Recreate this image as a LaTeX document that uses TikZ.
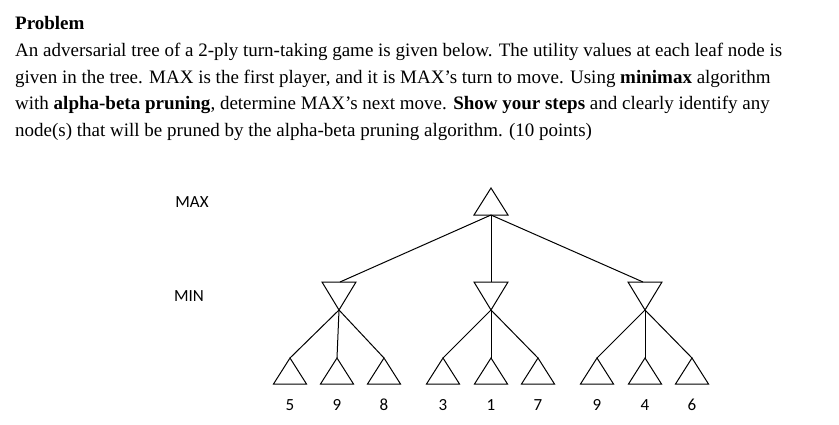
\documentclass[tikz,border=0pt]{standalone}
\usepackage{fontspec}
\setmainfont{Liberation Serif}
\newfontfamily\labfont{Carlito}
\begin{document}
\begin{tikzpicture}[x=1pt,y=-1pt,
  txt/.style={anchor=base west,inner sep=0,font=\fontsize{19}{22}\selectfont},
  lab/.style={inner sep=0,font=\labfont\fontsize{17}{20}\selectfont},
  edge/.style={line width=1pt},
  tri/.style={line width=1pt,line join=miter}]
\useasboundingbox (0,0) rectangle (839,424);
\node[txt] (t0) at (15,29) {\textbf{Problem}};
\node[txt] (t1) at (15,56) {An adversarial tree of a 2-ply turn-taking game is given below. The utility values at each leaf node is};
\node[txt] (t2) at (15,83) {given in the tree. MAX is the first player, and it is MAX's turn to move. Using \textbf{minimax} algorithm};
\node[txt] (t3) at (15,109) {with \textbf{alpha-beta pruning}, determine MAX's next move. \textbf{Show your steps} and clearly identify any};
\node[txt] (t4) at (15,136) {node(s) that will be pruned by the alpha-beta pruning algorithm. (10 points)};
\node[lab] (lmax) at (192,202) {MAX};
\node[lab] (lmin) at (189,296) {MIN};
% root
\draw[tri] (491,188) -- (508,215) -- (474,215) -- cycle;
\coordinate (r) at (491,215);
% MIN nodes
\foreach \n/\x in {a/339,b/491,c/645}{
  \draw[tri] (\x-17,282) -- (\x+17,282) -- (\x,310) -- cycle;
  \coordinate (\n) at (\x,310);
}
\draw[edge] (r) -- (340,282);
\draw[edge] (r) -- (491,282);
\draw[edge] (r) -- (643,282);
% leaves
\foreach \p/\x/\v/\i in {a/290/5/1,a/337/9/2,a/384/8/3,b/443/3/4,b/491/1/5,b/538/7/6,c/597/9/7,c/645/4/8,c/692/6/9}{
  \draw[tri] (\x,358) -- (\x+16.5,384) -- (\x-16.5,384) -- cycle;
  \coordinate (l\i) at (\x,358);
  \draw[edge] (\p) -- (l\i);
  \node[lab] (v\i) at (\x,405) {\v};
}
\end{tikzpicture}
\end{document}
